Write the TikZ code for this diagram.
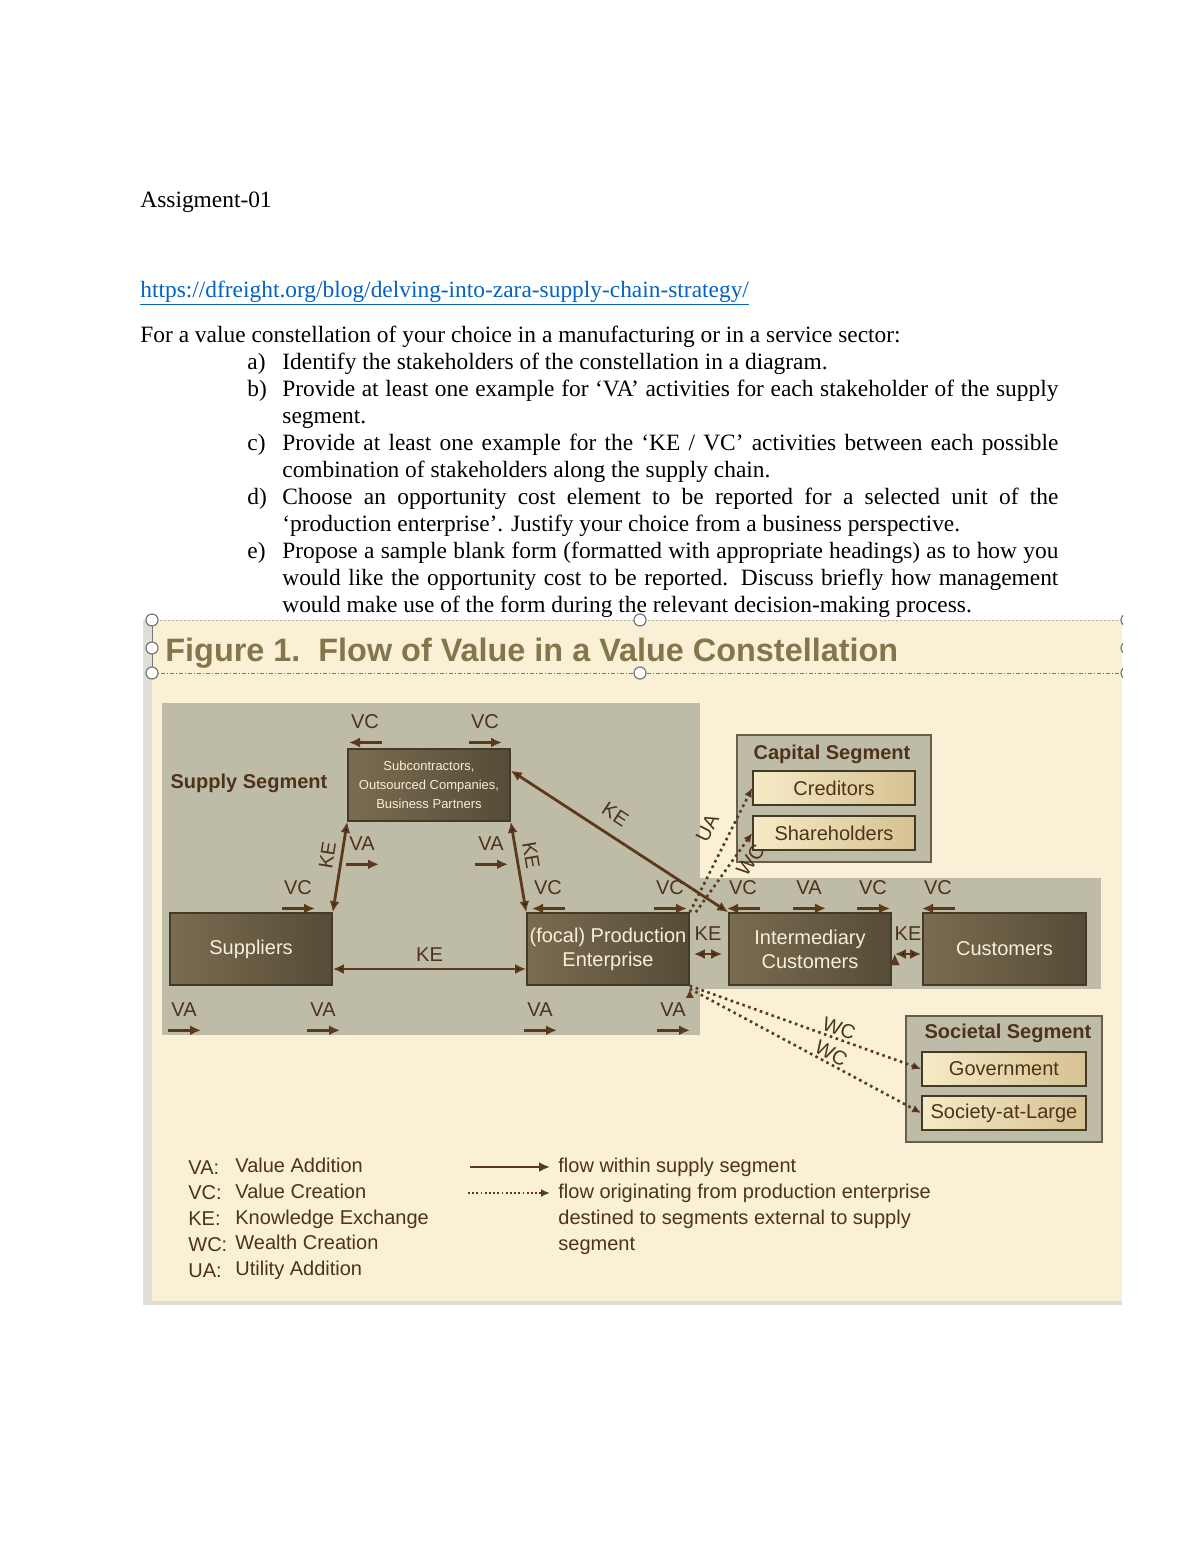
\documentclass[tikz,border=0pt]{standalone}
\usepackage{fontspec}
\setmainfont{Liberation Serif}
\setsansfont{Liberation Sans}
\usepackage{tikz}
\usetikzlibrary{arrows.meta}

\definecolor{panel}{RGB}{250,240,214}
\definecolor{panelrim}{RGB}{222,222,216}
\definecolor{segment}{RGB}{190,188,166}
\definecolor{segedge}{RGB}{105,94,72}
\definecolor{darkA}{RGB}{122,108,80}
\definecolor{darkB}{RGB}{86,76,55}
\definecolor{darkedge}{RGB}{68,58,40}
\definecolor{lightA}{RGB}{246,234,198}
\definecolor{lightB}{RGB}{214,194,146}
\definecolor{boxtext}{RGB}{246,240,218}
\definecolor{ink}{RGB}{92,56,28}
\definecolor{tagink}{RGB}{78,50,26}
\definecolor{titleink}{RGB}{132,118,76}
\definecolor{linkblue}{RGB}{5,99,193}
\definecolor{handle}{RGB}{120,120,120}

\begin{document}
\begin{tikzpicture}[x=0.5pt, y=-0.5pt, >={Latex[length=5.5pt,width=5pt]}, font=\sffamily]
  \tikzstyle{body}=[font=\rmfamily\fontsize{11.7}{13.5}\selectfont, inner sep=0pt]
  \tikzstyle{party}=[draw=darkedge, line width=0.8pt, left color=darkA, right color=darkB, text=boxtext,
    minimum width=81pt, minimum height=36pt, align=center, inner sep=1pt, font=\sffamily\fontsize{10}{12}\selectfont]
  \tikzstyle{holder}=[draw=darkedge, line width=0.8pt, left color=lightA, right color=lightB, text=tagink,
    minimum width=81pt, minimum height=17pt, inner sep=1pt, font=\sffamily\fontsize{10}{12}\selectfont]
  \tikzstyle{segbox}=[fill=segment, draw=segedge, line width=0.9pt]
  \tikzstyle{segtitle}=[text=tagink, font=\sffamily\bfseries\fontsize{10}{12}\selectfont, inner sep=0pt]
  \tikzstyle{tag}=[text=tagink, font=\sffamily\fontsize{10}{12}\selectfont, inner sep=0pt]
  \tikzstyle{flow}=[draw=ink, line width=1.4pt]
  \tikzstyle{outflow}=[draw=ink, line width=1.3pt, dash pattern=on 1.3pt off 1.8pt, >={Latex[length=4.5pt,width=4pt]}]
  \tikzstyle{legend}=[text=tagink, font=\sffamily\fontsize{10}{12.9}\selectfont, inner sep=0pt, align=left]

  \useasboundingbox (0,0) rectangle (1200,1553);
  \fill[white] (0,0) rectangle (1200,1553);

  % assignment text
  \node[body, anchor=base west] (head) at (140,207) {Assigment-01};
  \node[body, anchor=base west, text=linkblue] (link) at (140,297)
    {\underline{https://dfreight.org/blog/delving-into-zara-supply-chain-strategy/}};
  \node[body, anchor=base west] (intro) at (140,342)
    {For a value constellation of your choice in a manufacturing or in a service sector:};
  \node[body, anchor=north west, text width=405.5pt, align=justify] (tasks) at (247,350) {%
    \strut\hangindent=17.5pt\hangafter=1\noindent\makebox[17.5pt][l]{a)}Identify the stakeholders of the constellation in a diagram.\par
    \hangindent=17.5pt\hangafter=1\noindent\makebox[17.5pt][l]{b)}Provide at least one example for `VA' activities for each stakeholder of the supply\linebreak segment.\par
    \hangindent=17.5pt\hangafter=1\noindent\makebox[17.5pt][l]{c)}Provide at least one example for the `KE / VC' activities between each possible\linebreak combination of stakeholders along the supply chain.\par
    \hangindent=17.5pt\hangafter=1\noindent\makebox[17.5pt][l]{d)}Choose an opportunity cost element to be reported for a selected unit of the\linebreak `production enterprise'. Justify your choice from a business perspective.\par
    \hangindent=17.5pt\hangafter=1\noindent\makebox[17.5pt][l]{e)}Propose a sample blank form (formatted with appropriate headings) as to how you\linebreak would like the opportunity cost to be reported. Discuss briefly how management\linebreak would make use of the form during the relevant decision-making process.\par};

  % figure panel
  \fill[panelrim] (143,620) rectangle (152,1304);
  \fill[panel] (152,620) rectangle (1122,1302);
  \fill[panelrim] (143,1301) rectangle (1122,1305);
  \draw[handle!60, line width=0.5pt, dash pattern=on 1pt off 1pt] (152,620) -- (1122,620);
  \draw[handle, line width=0.5pt, dash pattern=on 2pt off 1pt on 0.5pt off 1pt] (152,673) -- (1122,673);
  \draw[handle, line width=0.5pt] (152,620) -- (152,673);
  \begin{scope}
    \clip (140,612) rectangle (1123,680);
    \draw[handle, fill=white, line width=0.6pt] (152,620) circle[radius=6] (152,648) circle[radius=6]
      (152,673) circle[radius=6] (640,620) circle[radius=6] (640,673) circle[radius=6]
      (1127,620) circle[radius=6] (1127,648) circle[radius=6] (1127,673) circle[radius=6];
  \end{scope}
  \node[anchor=base west, inner sep=0pt, text=titleink, font=\sffamily\bfseries\fontsize{16.2}{19}\selectfont]
    (figtitle) at (165,661) {Figure 1.\ \ Flow of Value in a Value Constellation};

  % segments
  \fill[segment] (162,703) rectangle (700,1035);
  \fill[segment] (700,878) rectangle (1101,989);
  \draw[segbox] (737,735) rectangle (931,862);
  \draw[segbox] (906,1016) rectangle (1102,1142);
  \node[segtitle] (supplyseg) at (249,783) {Supply Segment};
  \node[segtitle] (capitalseg) at (832,754) {Capital Segment};
  \node[segtitle] (societalseg) at (1008,1033) {Societal Segment};

  % parties
  \node[party, font=\sffamily\fontsize{6.5}{9.5}\selectfont] (sub) at (429,785)
    {Subcontractors,\\Outsourced Companies,\\Business Partners};
  \node[party] (sup) at (251,949) {Suppliers};
  \node[party] (prod) at (608,949) {(focal) Production\\Enterprise};
  \node[party] (inter) at (810,949) {Intermediary\\Customers};
  \node[party, minimum width=81.5pt] (cust) at (1004.5,949) {Customers};
  \node[holder] (cred) at (834,788) {Creditors};
  \node[holder] (share) at (834,833) {Shareholders};
  \node[holder, minimum width=82pt] (gov) at (1004,1069) {Government};
  \node[holder, minimum width=82pt] (soc) at (1004,1113) {Society-at-Large};

  % knowledge exchange
  \path[flow, <->]
    (sub.south west) edge node[tag, sloped, above=3pt, pos=0.4] {KE} (sup.north east)
    (sub.south east) edge node[tag, sloped, above=3pt, pos=0.4] {KE} (prod.north west)
    (sub.10) edge node[tag, sloped, above=6pt, pos=0.43] {KE} (inter.north west)
    ([yshift=-10pt]sup.east) edge node[tag, above=3pt] {KE} ([yshift=-10pt]prod.west)
    ([xshift=2pt,yshift=-2.5pt]prod.east) edge node[tag, above=6pt] {KE} ([xshift=-3pt,yshift=-2.5pt]inter.west)
    ([xshift=1.5pt,yshift=-2.5pt]inter.east) edge node[tag, above=6pt] {KE} ([xshift=-0.5pt,yshift=-2.5pt]cust.west);

  % flows to the outer segments
  \path[outflow, ->]
    (prod.north east) edge node[tag, sloped, above=7pt, pos=0.6] {UA} (cred.west)
    ([xshift=3pt]prod.north east) edge node[tag, sloped, below=3pt, pos=0.76] {WC} (share.west)
    (prod.south east) edge node[tag, sloped, above=1pt, pos=0.63] {WC} (gov.west)
    ([yshift=-1.5pt]prod.south east) edge node[tag, sloped, above=1pt, pos=0.59] {WC} (soc.west);

  % value creation / value addition tags
  \node[tag] (vc1) at (365,722) {VC};
  \draw[flow, <-] (vc1.south) ++(-16,13) -- ++(33,0);
  \node[tag] (vc2) at (485,722) {VC};
  \draw[flow, ->] (vc2.south) ++(-16,13) -- ++(33,0);
  \node[tag] (va1) at (362,844) {VA};
  \draw[flow, ->] (va1.south) ++(-16,13) -- ++(33,0);
  \node[tag] (va2) at (491,844) {VA};
  \draw[flow, ->] (va2.south) ++(-16,13) -- ++(33,0);
  \node[tag] (vc3) at (298,888) {VC};
  \draw[flow, ->] (vc3.south) ++(-16,13) -- ++(33,0);
  \node[tag] (vc4) at (548,888) {VC};
  \draw[flow, <-] (vc4.south) ++(-16,13) -- ++(33,0);
  \node[tag] (vc5) at (670,888) {VC};
  \draw[flow, ->] (vc5.south) ++(-16,13) -- ++(33,0);
  \node[tag] (vc6) at (743,888) {VC};
  \draw[flow, <-] (vc6.south) ++(-16,13) -- ++(33,0);
  \node[tag] (va3) at (809,888) {VA};
  \draw[flow, ->] (va3.south) ++(-16,13) -- ++(33,0);
  \node[tag] (vc7) at (873,888) {VC};
  \draw[flow, ->] (vc7.south) ++(-16,13) -- ++(33,0);
  \node[tag] (vc8) at (938,888) {VC};
  \draw[flow, <-] (vc8.south) ++(-16,13) -- ++(33,0);
  \node[tag] (va4) at (184,1010) {VA};
  \draw[flow, ->] (va4.south) ++(-16,13) -- ++(33,0);
  \node[tag] (va5) at (323,1010) {VA};
  \draw[flow, ->] (va5.south) ++(-16,13) -- ++(33,0);
  \node[tag] (va6) at (540,1010) {VA};
  \draw[flow, ->] (va6.south) ++(-16,13) -- ++(33,0);
  \node[tag] (va7) at (673,1010) {VA};
  \draw[flow, ->] (va7.south) ++(-16,13) -- ++(33,0);

  % legend
  \node[legend, anchor=west] (abbr) at (188,1219) {VA:\\VC:\\KE:\\WC:\\UA:};
  \node[legend, anchor=west] (terms) at (235,1219)
    {Value Addition\\Value Creation\\Knowledge Exchange\\Wealth Creation\\Utility Addition};
  \node[legend, anchor=west] (inside) at (558,1167) {flow within supply segment};
  \node[legend, anchor=west] (outA) at (558,1193) {flow originating from production enterprise};
  \node[legend, anchor=west] (outB) at (558,1232) {destined to segments external to supply\\segment};
  \draw[flow, line width=1.1pt, ->] ([xshift=-44pt]inside.west) -- ([xshift=-4pt]inside.west);
  \draw[outflow, line width=0.9pt, dash pattern=on 0.9pt off 1.2pt, ->] ([xshift=-45pt]outA.west) -- ([xshift=-4pt]outA.west);
\end{tikzpicture}
\end{document}
